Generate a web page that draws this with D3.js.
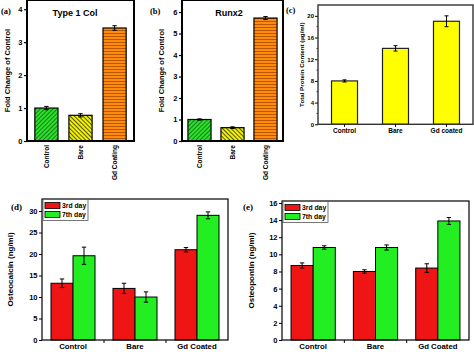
<!DOCTYPE html>
<html><head><meta charset="utf-8">
<script src="https://cdn.jsdelivr.net/npm/d3@7"></script>
<style>
body{margin:0;background:#fff;}
text{font-family:"Liberation Sans",Arial,sans-serif;font-weight:bold;}
.pl{font-family:"Liberation Serif","DejaVu Serif",serif;font-weight:bold;}
</style></head>
<body><svg id="c" width="474" height="355"></svg>
<script>
// ---- data ----
const catsAB = ["Control", "Bare", "Gd Coating"];
const col1 = [1.0, 0.78, 3.43];
const col1Err = [0.05, 0.05, 0.07];
const runx2 = [1.0, 0.62, 5.72];
const runx2Err = [0.03, 0.04, 0.07];
const catsC = ["Control", "Bare", "Gd coated"];
const protein = [8.0, 14.0, 19.0];
const proteinErr = [0.2, 0.5, 1.0];
const catsDE = ["Control", "Bare", "Gd Coated"];
const seriesNames = ["3rd day", "7th day"];
const oc3 = [13.2, 12.0, 21.0];
const oc3Err = [1.0, 1.2, 0.5];
const oc7 = [19.6, 10.0, 29.0];
const oc7Err = [2.0, 1.2, 0.8];
const op3 = [8.7, 8.0, 8.4];
const op3Err = [0.3, 0.2, 0.5];
const op7 = [10.8, 10.8, 13.9];
const op7Err = [0.2, 0.3, 0.4];
const ticksA = [0, 1, 2, 3, 4];
const ticksB = [0, 1, 2, 3, 4, 5, 6];
const ticksC = [0, 4, 8, 12, 16, 20];
const ticksD = [0, 5, 10, 15, 20, 25, 30];
const ticksE = [0, 2, 4, 6, 8, 10, 12, 14, 16];

const svg = d3.select("#c");
const defs = svg.append("defs");
function hatch(id, bg, line, kind, sp) {
  const p = defs.append("pattern").attr("id", id).attr("patternUnits", "userSpaceOnUse")
    .attr("width", sp).attr("height", sp);
  if (kind === "fwd" || kind === "back") p.attr("patternTransform", `rotate(${kind === "fwd" ? 45 : -45})`);
  p.append("rect").attr("width", sp).attr("height", sp).attr("fill", bg);
  if (kind === "h") p.append("rect").attr("x", 0).attr("y", 0).attr("width", sp).attr("height", 1).attr("fill", line);
  else p.append("rect").attr("x", 0).attr("y", 0).attr("width", 1).attr("height", sp).attr("fill", line);
}
hatch("hg", "#2ee02e", "#128012", "fwd", 3);
hatch("hy", "#f2f200", "#55550a", "back", 3);
hatch("ho", "#ff8a10", "#b85800", "h", 3);
const fillsAB = ["url(#hg)", "url(#hy)", "url(#ho)"];

function errBar(g, x, y, v, e, cap) {
  g.append("line").attr("x1", x).attr("x2", x).attr("y1", y(v - e)).attr("y2", y(v + e)).attr("stroke", "#000").attr("stroke-width", 1);
  [v - e, v + e].forEach(t => g.append("line").attr("x1", x - cap).attr("x2", x + cap).attr("y1", y(t)).attr("y2", y(t)).attr("stroke", "#000").attr("stroke-width", 1));
}

// ---- panels a, b ----
function panelAB(cfg) {
  const g = svg.append("g");
  const x = d3.scaleBand().domain(catsAB).range([cfg.x0, cfg.x1]).paddingInner(cfg.pi).paddingOuter(cfg.po);
  const y = d3.scaleLinear().domain([0, cfg.ymax]).range([cfg.yb, cfg.yt]);
  g.selectAll("rect.bar").data(cfg.vals).join("rect").attr("class", "bar")
    .attr("x", (d, i) => x(catsAB[i])).attr("width", x.bandwidth())
    .attr("y", d => y(d)).attr("height", d => y(0) - y(d))
    .attr("fill", (d, i) => fillsAB[i]).attr("stroke", "#000").attr("stroke-width", 1.2);
  cfg.vals.forEach((v, i) => errBar(g, x(catsAB[i]) + x.bandwidth() / 2, y, v, cfg.err[i], 2.2));
  const ax = g.append("g").attr("transform", `translate(${cfg.x0},0)`)
    .call(d3.axisLeft(y).tickValues(cfg.ticks).tickSize(3).tickPadding(1.5).tickFormat(d3.format("d")));
  ax.select(".domain").remove();
  ax.selectAll("line").attr("stroke-width", 1.2);
  ax.selectAll("text").attr("font-size", 7.5).attr("font-family", "Liberation Sans").attr("font-weight", "bold");
  g.append("rect").attr("x", cfg.x0).attr("y", cfg.yt).attr("width", cfg.x1 - cfg.x0).attr("height", cfg.yb - cfg.yt)
    .attr("fill", "none").attr("stroke", "#000").attr("stroke-width", 2);
  catsAB.forEach(c => g.append("text").attr("transform", `translate(${x(c) + x.bandwidth() / 2 + 2.5},${cfg.yb + 4}) rotate(-90)`)
    .attr("text-anchor", "end").attr("font-size", 6.5).text(c));
  g.append("text").attr("x", cfg.tx).attr("y", 16).attr("text-anchor", "middle").attr("font-size", 9).text(cfg.title);
  g.append("text").attr("transform", `translate(${cfg.lx},${(cfg.yt + cfg.yb) / 2}) rotate(-90)`)
    .attr("text-anchor", "middle").attr("font-size", 7.5).text("Fold Change of Control");
  g.append("text").attr("class", "pl").attr("x", cfg.px).attr("y", 14).attr("font-size", 8.5).text(cfg.lab);
}
panelAB({x0: 27, x1: 134, yt: 0, yb: 141, ymax: 4.28, pi: 0.32, po: 0.23, vals: col1, err: col1Err, ticks: ticksA, title: "Type 1 Col", tx: 75, lx: 10, px: 1, lab: "(a)"});
panelAB({x0: 182, x1: 283, yt: 0, yb: 141, ymax: 6.56, pi: 0.3, po: 0.18, vals: runx2, err: runx2Err, ticks: ticksB, title: "Runx2", tx: 229, lx: 164, px: 150, lab: "(b)"});

// ---- panel c ----
(function () {
  const g = svg.append("g");
  const x0 = 318, x1 = 473, yt = 5, yb = 124.3;
  const x = d3.scaleBand().domain(catsC).range([x0, x1]).paddingInner(0.49).paddingOuter(0.265);
  const y = d3.scaleLinear().domain([0, 22]).range([yb, yt]);
  g.selectAll("rect.bar").data(protein).join("rect")
    .attr("x", (d, i) => x(catsC[i])).attr("width", x.bandwidth())
    .attr("y", d => y(d)).attr("height", d => y(0) - y(d))
    .attr("fill", "#ffff00").attr("stroke", "#222").attr("stroke-width", 1.2);
  protein.forEach((v, i) => errBar(g, x(catsC[i]) + x.bandwidth() / 2, y, v, proteinErr[i], 2));
  const ax = g.append("g").attr("transform", `translate(${x0},0)`)
    .call(d3.axisLeft(y).tickValues(ticksC).tickSize(3).tickPadding(1).tickFormat(d3.format("d")));
  ax.select(".domain").remove();
  ax.selectAll("text").attr("font-size", 6).attr("font-family", "Liberation Sans").attr("font-weight", "bold");
  const minor = d3.range(2, 22, 4);
  g.selectAll("line.mn").data(minor).join("line").attr("x1", x0 - 1.5).attr("x2", x0).attr("y1", d => y(d)).attr("y2", d => y(d)).attr("stroke", "#333");
  g.append("rect").attr("x", x0).attr("y", yt).attr("width", x1 - x0).attr("height", yb - yt)
    .attr("fill", "none").attr("stroke", "#333").attr("stroke-width", 1.4);
  const bx = g.append("g").attr("transform", `translate(0,${yb})`)
    .call(d3.axisBottom(x).tickSize(2.5).tickPadding(1.5));
  bx.select(".domain").remove();
  bx.selectAll("text").attr("font-size", 6.5).attr("font-family", "Liberation Sans").attr("font-weight", "bold");
  g.append("text").attr("transform", `translate(304,${(yt + yb) / 2}) rotate(-90)`)
    .attr("text-anchor", "middle").attr("font-size", 6.2).text("Total Protein Content (µg/ml)");
  g.append("text").attr("class", "pl").attr("x", 286).attr("y", 13).attr("font-size", 8.5).text("(c)");
})();

// ---- panels d, e ----
function panelDE(cfg) {
  const g = svg.append("g");
  const x = d3.scaleBand().domain(catsDE).range([cfg.x0, cfg.x1]).paddingInner(0.29).paddingOuter(0.145);
  const xs = d3.scaleBand().domain(seriesNames).range([0, x.bandwidth()]);
  const y = d3.scaleLinear().domain([0, cfg.ymax]).range([cfg.yb, cfg.yt]);
  const colors = ["#f01515", "#22ee22"];
  [cfg.s1, cfg.s2].forEach((vals, si) => {
    const errs = si === 0 ? cfg.e1 : cfg.e2;
    g.selectAll(null).data(vals).join("rect")
      .attr("x", (d, i) => x(catsDE[i]) + xs(seriesNames[si])).attr("width", xs.bandwidth())
      .attr("y", d => y(d)).attr("height", d => y(0) - y(d))
      .attr("fill", colors[si]).attr("stroke", "#000").attr("stroke-width", 1);
    vals.forEach((v, i) => errBar(g, x(catsDE[i]) + xs(seriesNames[si]) + xs.bandwidth() / 2, y, v, errs[i], 2.2));
  });
  const ax = g.append("g").attr("transform", `translate(${cfg.x0},0)`)
    .call(d3.axisLeft(y).tickValues(cfg.ticks).tickSize(3).tickPadding(1.5).tickFormat(d3.format("d")));
  ax.select(".domain").remove();
  ax.selectAll("text").attr("font-size", 7.5).attr("font-family", "Liberation Sans").attr("font-weight", "bold");
  g.append("rect").attr("x", cfg.x0).attr("y", cfg.yt).attr("width", cfg.x1 - cfg.x0).attr("height", cfg.yb - cfg.yt)
    .attr("fill", "none").attr("stroke", "#000").attr("stroke-width", 1.2);
  const bx = g.append("g").attr("transform", `translate(0,${cfg.yb})`)
    .call(d3.axisBottom(x).tickSize(0).tickPadding(3));
  bx.select(".domain").remove();
  bx.selectAll("text").attr("font-size", 7.8).attr("font-family", "Liberation Sans").attr("font-weight", "bold");
  // boundary ticks between groups
  [1, 2].forEach(i => {
    const bxp = (x(catsDE[i - 1]) + x.bandwidth() + x(catsDE[i])) / 2;
    g.append("line").attr("x1", bxp).attr("x2", bxp).attr("y1", cfg.yb).attr("y2", cfg.yb + 3).attr("stroke", "#000");
  });
  // legend
  const lg = g.append("g");
  lg.append("rect").attr("x", cfg.x0 + 1).attr("y", cfg.yt + 0.5).attr("width", 45).attr("height", 21)
    .attr("fill", "#fff").attr("stroke", "#555").attr("stroke-width", 0.8);
  seriesNames.forEach((s, i) => {
    lg.append("rect").attr("x", cfg.x0 + 3).attr("y", cfg.yt + 3.5 + i * 9).attr("width", 15).attr("height", 6)
      .attr("fill", colors[i]).attr("stroke", "#000").attr("stroke-width", 0.8);
    lg.append("text").attr("x", cfg.x0 + 20).attr("y", cfg.yt + 9 + i * 9).attr("font-size", 6.8).text(s);
  });
  g.append("text").attr("transform", `translate(${cfg.lx},${(cfg.yt + cfg.yb) / 2}) rotate(-90)`)
    .attr("text-anchor", "middle").attr("font-size", 8).text(cfg.ylab);
  g.append("text").attr("class", "pl").attr("x", cfg.px).attr("y", 210).attr("font-size", 9).text(cfg.lab);
}
panelDE({x0: 42, x1: 228, yt: 199, yb: 340, ymax: 32.8, s1: oc3, e1: oc3Err, s2: oc7, e2: oc7Err, ticks: ticksD, ylab: "Osteocalcin (ng/ml)", lx: 13, px: 11, lab: "(d)"});
panelDE({x0: 282, x1: 469, yt: 201, yb: 340, ymax: 16.23, s1: op3, e1: op3Err, s2: op7, e2: op7Err, ticks: ticksE, ylab: "Osteopontin (ng/ml)", lx: 254, px: 243, lab: "(e)"});
</script></body></html>
